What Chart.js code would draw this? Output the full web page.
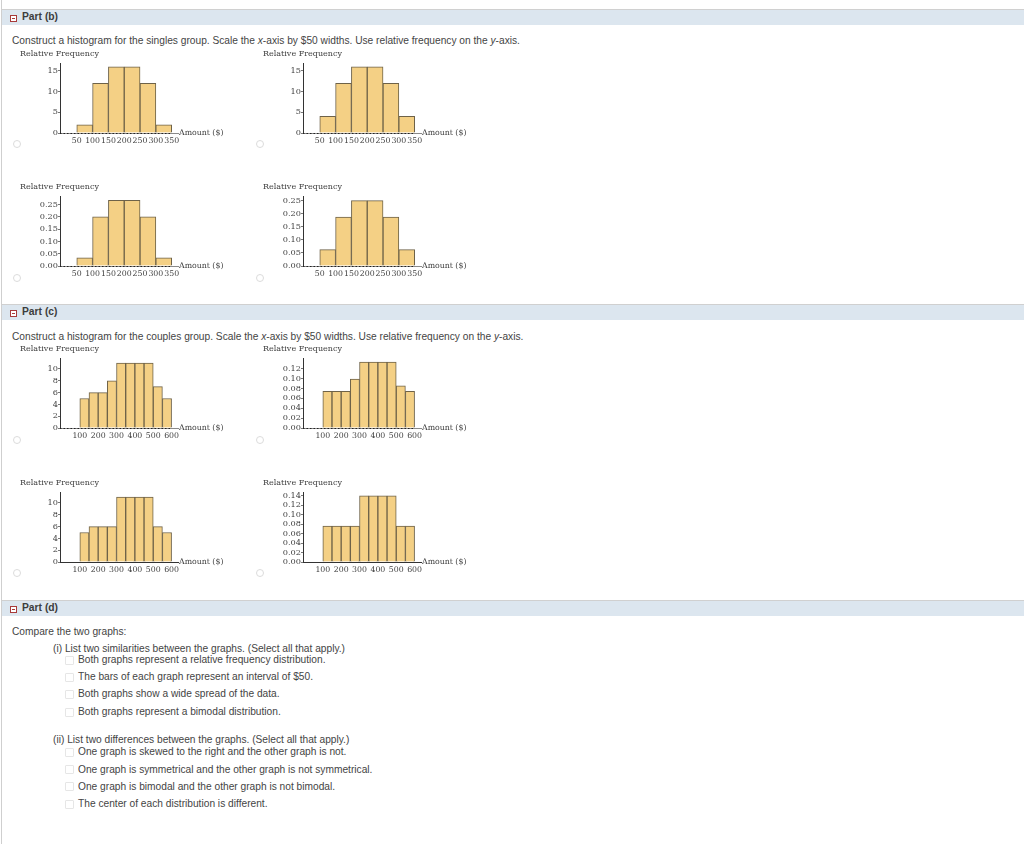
<!DOCTYPE html>
<html>
<head>
<meta charset="utf-8">
<script src="https://cdn.jsdelivr.net/npm/chart.js@4"></script>
<style>
html,body{margin:0;padding:0;background:#fff;width:1024px;height:844px;overflow:hidden}
body{font-family:"Liberation Sans",Arial,sans-serif;color:#3a3a3a;position:relative}
.frame{position:absolute;left:1px;top:0;width:1px;height:844px;background:#cfcfcf}
.bar{position:absolute;left:2px;right:0;height:15px;background:#dce6ef;border-top:1px solid #d0d0d0}
.bar b{position:absolute;left:20px;top:0;font-size:10.3px;line-height:13px;color:#3d3d3d}
.bar i{position:absolute;left:8px;top:5px;width:5px;height:5px;border:1px solid #a83a3a;background:#fff}
.bar i:after{content:"";position:absolute;left:1px;top:2px;width:3px;height:1px;background:#a83a3a}
.t{position:absolute;font-size:10.2px;line-height:12px;white-space:nowrap;color:#444}
.t em{font-style:italic}
.cb{position:absolute;width:7px;height:7px;border:1px solid #e6e6e6;background:#fff;border-radius:1px}
.r{position:absolute;width:6px;height:6px;border:1px solid #dcdcdc;border-radius:50%;background:#fff}
canvas{position:absolute}
.c{position:absolute}
</style>
</head>
<body>
<div class="frame"></div>
<div class="bar" style="top:9px"><i></i><b>Part (b)</b></div>
<div class="t" style="left:12px;top:35px">Construct a histogram for the singles group. Scale the <em>x</em>-axis by $50 widths. Use relative frequency on the <em>y</em>-axis.</div>
<div class="bar" style="top:304px"><i></i><b>Part (c)</b></div>
<div class="t" style="left:12px;top:331px">Construct a histogram for the couples group. Scale the <em>x</em>-axis by $50 widths. Use relative frequency on the <em>y</em>-axis.</div>
<div class="bar" style="top:600px"><i></i><b>Part (d)</b></div>
<div class="t" style="left:12px;top:626px">Compare the two graphs:</div>
<div class="t" style="left:53px;top:643px">(i) List two similarities between the graphs. (Select all that apply.)</div>
<div class="t" style="left:78px;top:654px">Both graphs represent a relative frequency distribution.</div>
<div class="t" style="left:78px;top:671px">The bars of each graph represent an interval of $50.</div>
<div class="t" style="left:78px;top:688px">Both graphs show a wide spread of the data.</div>
<div class="t" style="left:78px;top:706px">Both graphs represent a bimodal distribution.</div>
<div class="t" style="left:53px;top:734px">(ii) List two differences between the graphs. (Select all that apply.)</div>
<div class="t" style="left:78px;top:746px">One graph is skewed to the right and the other graph is not.</div>
<div class="t" style="left:78px;top:764px">One graph is symmetrical and the other graph is not symmetrical.</div>
<div class="t" style="left:78px;top:781px">One graph is bimodal and the other graph is not bimodal.</div>
<div class="t" style="left:78px;top:798px">The center of each distribution is different.</div>
<div class="cb" style="left:65px;top:656px"></div>
<div class="cb" style="left:65px;top:673px"></div>
<div class="cb" style="left:65px;top:690px"></div>
<div class="cb" style="left:65px;top:708px"></div>
<div class="cb" style="left:65px;top:748px"></div>
<div class="cb" style="left:65px;top:765px"></div>
<div class="cb" style="left:65px;top:782px"></div>
<div class="cb" style="left:65px;top:800px"></div>
<div class="r" style="left:13px;top:140px"></div>
<div class="r" style="left:256px;top:140px"></div>
<div class="r" style="left:13px;top:274px"></div>
<div class="r" style="left:256px;top:274px"></div>
<div class="r" style="left:13px;top:436px"></div>
<div class="r" style="left:256px;top:436px"></div>
<div class="r" style="left:13px;top:569px"></div>
<div class="r" style="left:256px;top:569px"></div>
<script>
const singlesBins = [75,125,175,225,275,325];
const couplesBins = [125,175,225,275,325,375,425,475,525,575];
const singlesXTicks = [50,100,150,200,250,300,350];
const couplesXTicks = [100,200,300,400,500,600];
const countYTicks15 = [0,5,10,15];
const countYTicks10 = [0,2,4,6,8,10];
const relYTicks25 = [0,0.05,0.10,0.15,0.20,0.25];
const relYTicks12 = [0,0.02,0.04,0.06,0.08,0.10,0.12];
const relYTicks14 = [0,0.02,0.04,0.06,0.08,0.10,0.12,0.14];
const valuesB1 = [2,12,16,16,12,2];
const valuesB2 = [4,12,16,16,12,4];
const valuesB3 = [0.033,0.20,0.267,0.267,0.20,0.033];
const valuesB4 = [0.0625,0.1875,0.25,0.25,0.1875,0.0625];
const valuesC1 = [5,6,6,8,11,11,11,11,7,5];
const valuesC2 = [0.074,0.074,0.074,0.099,0.133,0.133,0.133,0.133,0.085,0.074];
const valuesC3 = [5,6,6,6,11,11,11,11,6,5];
const valuesC4 = [0.076,0.076,0.076,0.076,0.14,0.14,0.14,0.14,0.076,0.076];
const yTitle = "Relative Frequency";
const xTitle = "Amount ($)";

const SERIF = '"DejaVu Serif",serif';
const ink = '#3f3f3f';
const axisExtras = {
  id:'axisExtras',
  afterDraw(chart,args,opts){
    const {ctx,chartArea} = chart;
    ctx.save();
    ctx.font = '7.8px '+SERIF;
    ctx.fillStyle = ink;
    ctx.textBaseline = 'middle';
    ctx.fillText(xTitle, chartArea.right+1, chartArea.bottom);
    if(opts.dotted){
      const y = Math.round(chartArea.bottom)+0.5;
      ctx.strokeStyle = '#222';
      ctx.lineWidth = 1;
      ctx.setLineDash([1.5,2]);
      ctx.beginPath();
      ctx.moveTo(chartArea.left, y);
      ctx.lineTo(chartArea.right-6, y);
      ctx.stroke();
    }
    ctx.restore();
  }
};
function histogram(left, top, bins, values, xTicks, yTicks, xMin, xMax, yMax, digits, dotted){
  const cv = document.createElement('canvas');
  const box = document.createElement('div');
  box.className = 'c';
  box.style.cssText = `left:${left}px;top:${top}px;width:230px;height:101px`;
  box.appendChild(cv);
  document.body.appendChild(box);
  new Chart(cv,{
    type:'bar',
    data:{labels:bins,datasets:[{data:values,backgroundColor:'#f4d085',borderColor:'#6e6248',borderWidth:1,barPercentage:1,categoryPercentage:1}]},
    plugins:[axisExtras],
    options:{
      responsive:true,maintainAspectRatio:false,animation:false,
      layout:{padding:{left:0,top:0,right:72,bottom:0}},
      plugins:{
        legend:{display:false},tooltip:{enabled:false},
        axisExtras:{dotted},
        title:{display:true,text:yTitle,align:'start',color:ink,font:{family:SERIF,size:8,weight:'normal',lineHeight:1},padding:{top:4,bottom:5}}
      },
      scales:{
        x:{type:'linear',offset:false,min:xMin,max:xMax,
          grid:{display:false,drawTicks:false},
          border:{display:true,color:dotted?'#8a8a8a':'#333',width:1,z:1},
          ticks:{autoSkip:false,maxRotation:0,minRotation:0,color:ink,padding:3,font:{family:SERIF,size:7.8}},
          afterBuildTicks(s){s.ticks = xTicks.map(v=>({value:v}));},
          afterFit(s){s.height=14;}
        },
        y:{type:'linear',min:0,max:yMax,
          grid:{display:true,drawOnChartArea:false,drawTicks:true,tickLength:2,tickColor:'#777'},
          border:{display:true,color:'#333',width:1},
          ticks:{autoSkip:false,color:ink,padding:0,font:{family:SERIF,size:8.2},callback:v=>v.toFixed(digits)},
          afterBuildTicks(s){s.ticks = yTicks.map(v=>({value:v}));},
          afterFit(s){s.width=40;}
        }
      }
    }
  });
}
histogram(20,46,singlesBins,valuesB1,singlesXTicks,countYTicks15,-3,370,16.9,0,true);
histogram(263,46,singlesBins,valuesB2,singlesXTicks,countYTicks15,-3,370,16.9,0,true);
histogram(20,179,singlesBins,valuesB3,singlesXTicks,relYTicks25,-3,370,0.2845,2,true);
histogram(263,179,singlesBins,valuesB4,singlesXTicks,relYTicks25,-3,370,0.268,2,true);
histogram(20,341,couplesBins,valuesC1,couplesXTicks,countYTicks10,-8,635,11.86,0,true);
histogram(263,341,couplesBins,valuesC2,couplesXTicks,relYTicks12,-8,635,0.1414,2,true);
histogram(20,475,couplesBins,valuesC3,couplesXTicks,countYTicks10,-8,635,11.86,0,false);
histogram(263,475,couplesBins,valuesC4,couplesXTicks,relYTicks14,-8,635,0.148,2,false);
</script>
</body>
</html>
